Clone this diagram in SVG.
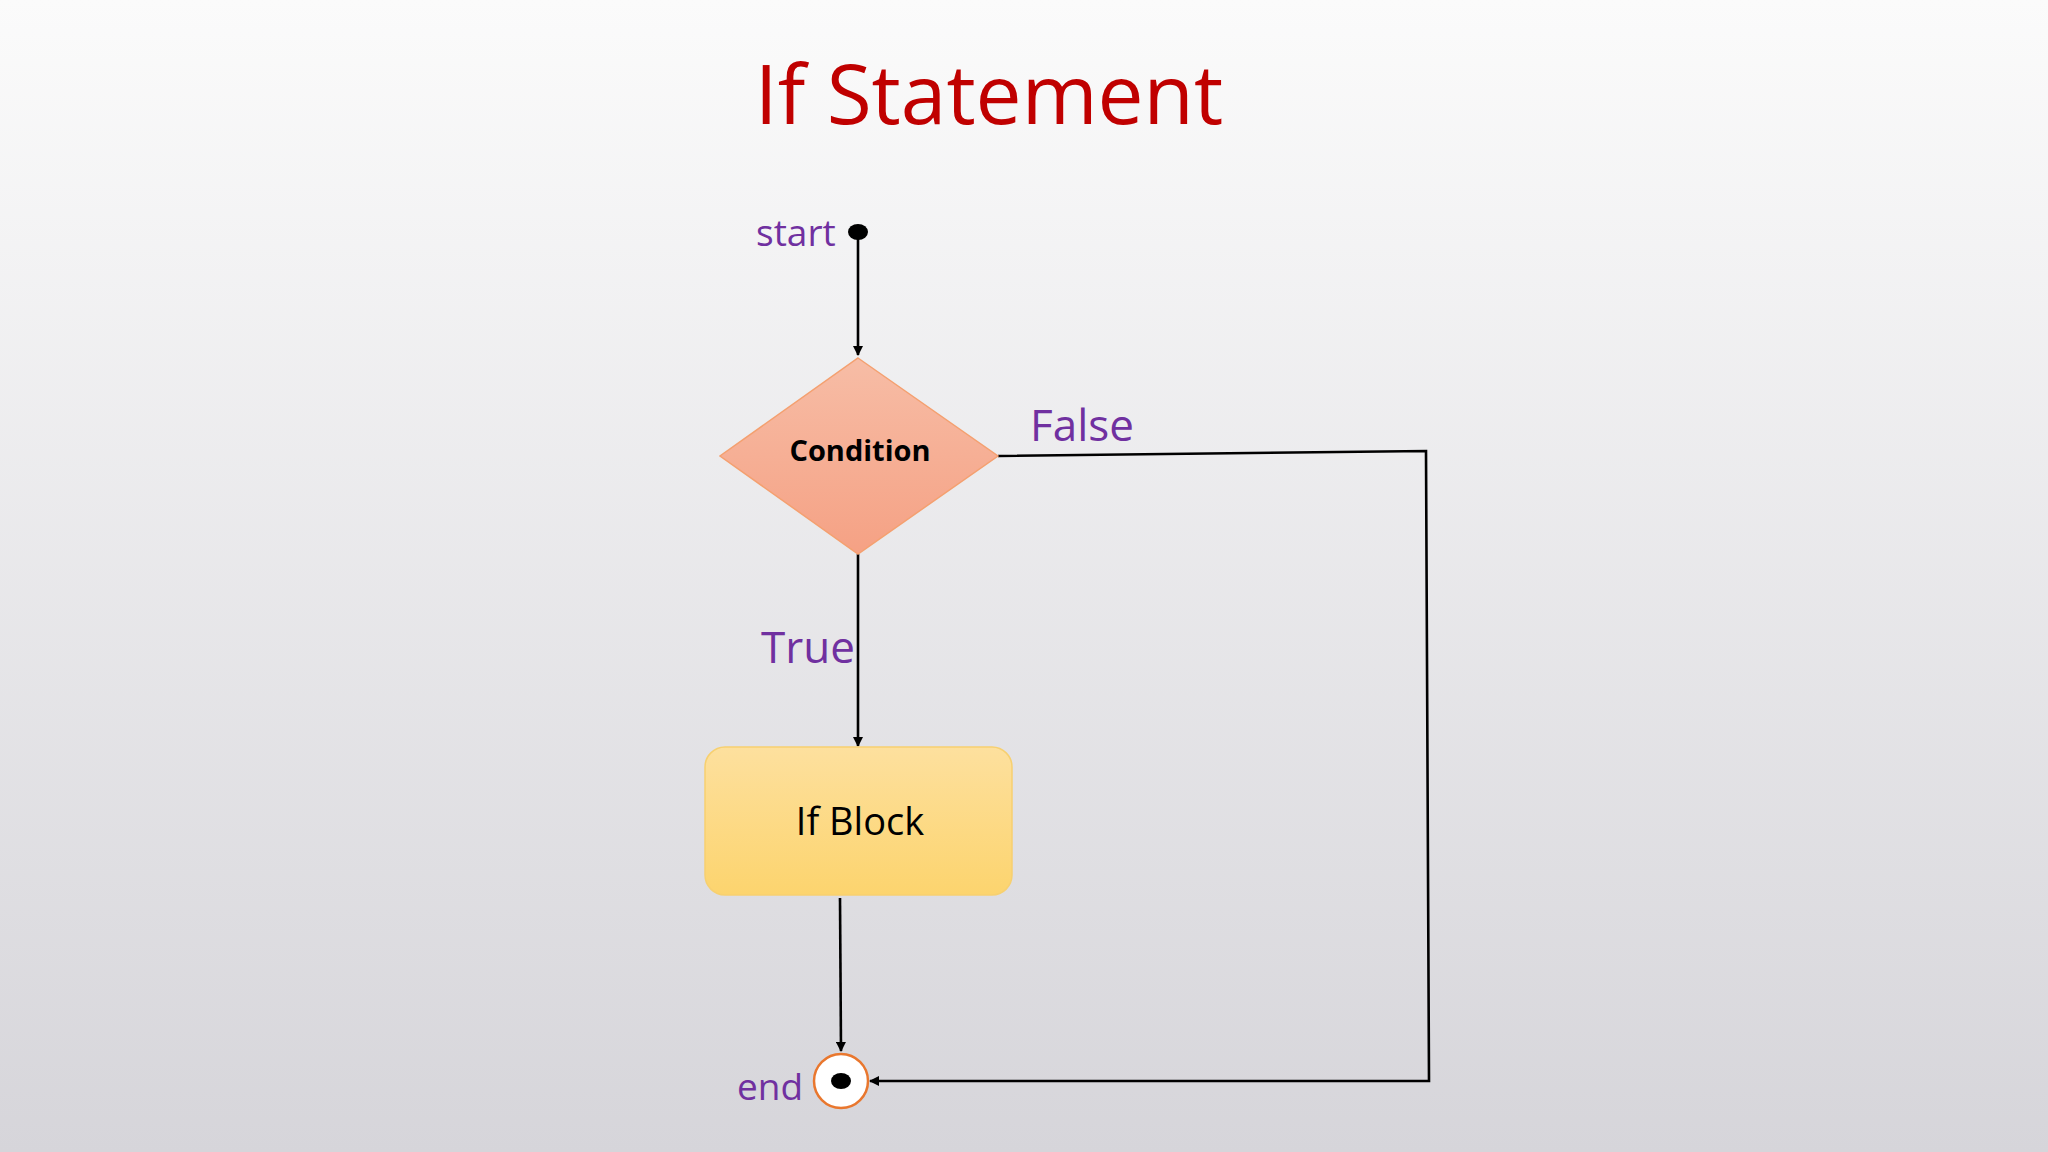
<svg xmlns="http://www.w3.org/2000/svg" width="2048" height="1152" viewBox="0 0 2048 1152">
<defs>
<linearGradient id="bg" x1="0" y1="0" x2="0" y2="1"><stop offset="0" stop-color="#fbfbfb"/><stop offset="1" stop-color="#d6d5da"/></linearGradient>
<linearGradient id="dg" x1="0" y1="0" x2="0" y2="1"><stop offset="0" stop-color="#f7bda6"/><stop offset="1" stop-color="#f5a184"/></linearGradient>
<linearGradient id="bk" x1="0" y1="0" x2="0" y2="1"><stop offset="0" stop-color="#fde09e"/><stop offset="1" stop-color="#fcd46e"/></linearGradient>
<marker id="ar" markerWidth="10" markerHeight="10" refX="9" refY="5" orient="auto" markerUnits="userSpaceOnUse"><path d="M0,0 L10,5 L0,10 z" fill="#000"/></marker>
<style>
.lbl{font-family:"Open Sans","Noto Sans",sans-serif;fill:#7030a0}
.ln{fill:none;stroke:#000;stroke-width:2.6}
</style>
</defs>
<rect width="2048" height="1152" fill="url(#bg)"/>
<text x="989" y="124" text-anchor="middle" font-family="Open Sans,Noto Sans,sans-serif" font-size="82" fill="#c00000">If Statement</text>
<g id="connectors">
<path class="ln" d="M858,232 L858,355" marker-end="url(#ar)"/>
<path class="ln" d="M858,554 L858,746" marker-end="url(#ar)"/>
<path class="ln" d="M840,898 L841,1051" marker-end="url(#ar)"/>
<path class="ln" d="M998,456 L1426,451 L1429,1081 L870,1081" marker-end="url(#ar)"/>
</g>
<g id="start"><ellipse cx="858" cy="232" rx="10" ry="8" fill="#000"/><text class="lbl" x="756" y="246" font-size="37">start</text></g>
<g id="condition"><polygon points="858,358 998,456 858,554 720,456" fill="url(#dg)" stroke="#f4a070" stroke-width="1.5"/><text x="860" y="461" text-anchor="middle" font-family="Open Sans,Noto Sans,sans-serif" font-weight="bold" font-size="29" fill="#000">Condition</text></g>
<text class="lbl" x="1030" y="441" font-size="44">False</text>
<text class="lbl" x="761" y="663" font-size="44">True</text>
<g id="ifblock"><rect x="705" y="747" width="307" height="148" rx="20" fill="url(#bk)" stroke="#f7d070" stroke-width="1.5"/><text x="860" y="835" text-anchor="middle" font-family="Open Sans,Noto Sans,sans-serif" font-size="38" fill="#000">If Block</text></g>
<g id="end"><circle cx="841" cy="1081" r="27" fill="#fff" stroke="#e9772e" stroke-width="2.5"/><ellipse cx="841" cy="1081" rx="10" ry="8" fill="#000"/><text class="lbl" x="737" y="1100" font-size="37">end</text></g>
</svg>
